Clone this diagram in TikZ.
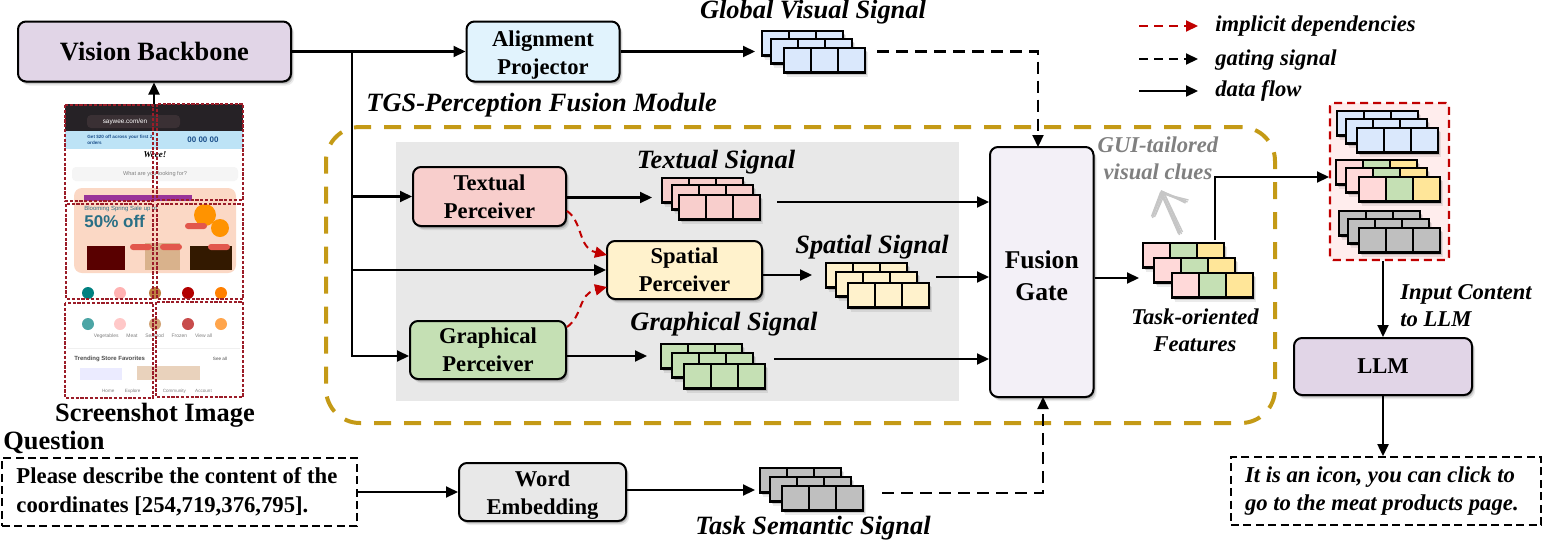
\documentclass[tikz,border=0pt]{standalone}
\usepackage{fontspec}
\setmainfont{Liberation Serif}
\newfontfamily\phonefont{Liberation Sans}
\usetikzlibrary{arrows.meta,shadows}

\definecolor{purpbox}{HTML}{E1D5E7}
\definecolor{bluebox}{HTML}{E1F3FD}
\definecolor{pinkbox}{HTML}{F8CECC}
\definecolor{yellbox}{HTML}{FFF2CC}
\definecolor{greenbox}{HTML}{C5E0B4}
\definecolor{wordbox}{HTML}{E8E8E8}
\definecolor{gatebox}{HTML}{F3F0F7}
\definecolor{bluecell}{HTML}{DAE8FC}
\definecolor{pinkcell}{HTML}{FFD9D9}
\definecolor{yellcell}{HTML}{FFE699}
\definecolor{graycell}{HTML}{BFBFBF}
\definecolor{goldline}{HTML}{C49A16}
\definecolor{redline}{HTML}{C00000}
\definecolor{phonered}{HTML}{9B1C28}
\definecolor{phonedark}{HTML}{262226}
\definecolor{phonepill}{HTML}{3A3034}
\definecolor{phonesky}{HTML}{BDE3F6}
\definecolor{phonepeach}{HTML}{FBD8C5}
\definecolor{phonenavy}{HTML}{1B4F8A}
\definecolor{phoneteal}{HTML}{2A6F85}
\definecolor{phoneprice}{HTML}{E2574C}

\newcommand{\boxfont}{\fontsize{11.3}{13.8}\selectfont\bfseries}
\newcommand{\sigfont}{\fontsize{13.2}{15}\selectfont\bfseries\itshape}
\newcommand{\notefont}{\fontsize{11.3}{13.5}\selectfont\bfseries\itshape}

\tikzset{
  softshadow/.style={
    general shadow={shadow xshift=.5pt,shadow yshift=-.7pt,fill=black,opacity=.25},
    general shadow={shadow xshift=1pt,shadow yshift=-1.3pt,fill=black,opacity=.15},
    general shadow={shadow xshift=1.6pt,shadow yshift=-2pt,fill=black,opacity=.08}},
  block/.style={draw=black,line width=1pt,rounded corners=4pt,align=center,
    inner sep=0pt,font=\boxfont,softshadow},
  cell/.style={draw=black,line width=1.3pt,softshadow},
  flow/.style={draw=black,line width=1.05pt,-{Triangle[length=6pt,width=5.5pt]}},
  gating/.style={flow,dash pattern=on 6pt off 3.5pt},
  implicit/.style={draw=redline,line width=1pt,dash pattern=on 3.5pt off 2.5pt,
    -{Triangle[length=6pt,width=5.5pt,fill=redline]}},
  textbox/.style={draw=black,line width=.9pt,dash pattern=on 4pt off 2.2pt,
    inner sep=0pt},
  siglabel/.style={font=\sigfont,inner sep=0pt},
  notelabel/.style={font=\notefont,inner sep=0pt,align=center},
  phonebox/.style={draw=phonered,line width=.8pt,dash pattern=on 1.6pt off .8pt},
  phonetext/.style={inner sep=0pt,text=#1},
}

% one row of a signal, three cells
\newcommand{\sigrow}[5]{%
  \foreach \cx/\cc in {0/#3,1/#4,2/#5}
    \draw[cell,fill=\cc] (#1+\cx*27,#2) rectangle +(27,24.5);
}
% three rows, back to front
\newcommand{\sigstack}[9]{%
  \sigrow{#1}{#2}{#7}{#8}{#9}
  \sigrow{#3}{#4}{#7}{#8}{#9}
  \sigrow{#5}{#6}{#7}{#8}{#9}
}

\begin{document}
\begin{tikzpicture}[x=0.5pt,y=-0.5pt]
  \useasboundingbox (0,0) rectangle (1543,542);

  % screenshot
  \begin{scope}
    \clip (65,104) rectangle (243,398);
    \fill[white] (65,104) rectangle (243,398);
    \fill[phonedark] (65,104) rectangle (243,131);
    \fill[phonepill,rounded corners=2pt] (87,115) rectangle (180,128);
    \fill[phonesky] (65,131) rectangle (243,149);
    \fill[black!4,rounded corners=2pt] (72,167) rectangle (238,181);
    \fill[phonepeach,rounded corners=4pt] (74,188) rectangle (236,273);
    \fill[violet!80] (84,195) rectangle (192,201);
    \fill[orange!85!yellow] (205,215) circle (11);
    \fill[orange!85!yellow] (220,228) circle (9);
    \fill[black!65!red] (87,246) rectangle (125,270);
    \fill[brown!60] (145,243) rectangle (180,270);
    \fill[black!80!orange] (190,246) rectangle (232,270);
    \foreach \px/\py in {185/226,130/247,160/247,208/247}
      \fill[phoneprice,rounded corners=1.5pt] (\px,\py-3) rectangle +(22,6);
    \foreach \ix/\ic in {88/teal,120/red!30,155/brown,188/red!70!black,221/orange} {
      \fill[\ic] (\ix,293) circle (6);
      \fill[\ic,opacity=.7] (\ix,324) circle (6);
    }
    \fill[black!6] (68,348) rectangle (240,349);
    \fill[blue!8] (80,368) rectangle (122,380);
    \fill[brown!35] (137,366) rectangle (200,380);
    \fill[white] (65,380) rectangle (243,398);
    \node[phonetext=white,font=\phonefont\fontsize{3.2}{4}\selectfont] (phoneurl) at (125,122) {saywee.com/en};
    \node[phonetext=phonenavy,font=\phonefont\bfseries\fontsize{2.3}{3}\selectfont,anchor=west,align=left] (phonedeal) at (87,140) {Get \$20 off across your first 2\\orders};
    \node[phonetext=phonenavy,font=\phonefont\bfseries\fontsize{4}{5}\selectfont] (phoneclock) at (203,140) {00 00 00};
    \node[phonetext=black,font=\itshape\bfseries\fontsize{4.5}{5}\selectfont] (phonelogo) at (155,155) {Weee!};
    \node[phonetext=gray,font=\phonefont\fontsize{2.8}{3}\selectfont] (phoneask) at (155,174) {What are you looking for?};
    \node[phonetext=phoneteal,font=\phonefont\fontsize{3}{4}\selectfont,anchor=west] (phonesale) at (84,209) {Blooming Spring Sale up to};
    \node[phonetext=phoneteal,font=\phonefont\bfseries\fontsize{8.5}{10}\selectfont,anchor=west] (phoneoff) at (84,221) {50\% off};
    \node[phonetext=gray,font=\phonefont\fontsize{2.5}{3}\selectfont] (phonecats) at (153,336) {Vegetables\quad\ \ Meat\quad\ \ Seafood\quad\ \ Frozen\quad\ \ View all};
    \node[phonetext=black!70,font=\phonefont\bfseries\fontsize{3}{4}\selectfont,anchor=west] (phonetrend) at (74,359) {Trending Store Favorites};
    \node[phonetext=black!70,font=\phonefont\fontsize{2.3}{3}\selectfont] (phonesee) at (220,359) {See all};
    \node[phonetext=gray,font=\phonefont\fontsize{2.3}{3}\selectfont] (phonenav) at (157,391) {Home\qquad\ Explore\qquad\ \qquad\ \ Community\qquad Account};
  \end{scope}
  \foreach \xa/\ya/\xb/\yb in {65/105/153/201,157/104/243/200,66/204/153/299,157/204/243/299,65/303/153/398,156/302/243/397}
    \draw[phonebox] (\xa,\ya) rectangle (\xb,\yb);
  \coordinate (shot) at (154,104);

  % perceiver panel and module outline
  \fill[black!9] (396,142) rectangle (959,401);
  \node[draw=goldline,line width=2pt,dash pattern=on 8.5pt off 6.5pt,rounded corners=17pt,
    minimum width=474.5pt,minimum height=148pt,inner sep=0pt] (module) at (800.5,275) {};

  % blocks
  \node[block,fill=purpbox,minimum width=136.5pt,minimum height=30pt,font=\fontsize{13.2}{15}\selectfont\bfseries] (vision) at (154.5,51.5) {Vision Backbone};
  \node[block,fill=bluebox,minimum width=76.5pt,minimum height=30pt] (align) at (543,51.5) {\rule{0pt}{11.2pt}Alignment\\Projector};
  \node[block,fill=pinkbox,minimum width=76.5pt,minimum height=29.5pt] (textual) at (489.5,196.5) {Textual\\Perceiver};
  \node[block,fill=yellbox,minimum width=77.5pt,minimum height=29pt] (spatial) at (684.5,270) {Spatial\\Perceiver};
  \node[block,fill=greenbox,minimum width=78pt,minimum height=29pt] (graphical) at (488,350) {Graphical\\Perceiver};
  \node[block,fill=gatebox,minimum width=51.75pt,minimum height=125pt,font=\fontsize{12.8}{16}\selectfont\bfseries] (fusion) at (1041.75,272) {\rule{0pt}{12.5pt}Fusion\\Gate};
  \node[block,fill=wordbox,minimum width=83.5pt,minimum height=29pt] (word) at (542.5,492) {\rule{0pt}{11.2pt}Word\\Embedding};
  \node[block,fill=purpbox,minimum width=89pt,minimum height=28.5pt] (llm) at (1383,366.5) {LLM};

  % text boxes
  \node[textbox,minimum width=177.5pt,minimum height=34pt,align=flush left,text width=163pt,
    font=\fontsize{11.35}{14.5}\selectfont\bfseries] (question) at (179.5,492) {Please describe the content of the\\coordinates [254,719,376,795].};
  \node[textbox,minimum width=155pt,minimum height=34pt,align=flush left,text width=141pt,
    font=\fontsize{11.35}{14.2}\selectfont\bfseries\itshape] (answer) at (1386,491) {It is an icon, you can click to\\go to the meat products page.};

  % signals
  \sigstack{762}{31}{771}{39}{784}{48}{bluecell}{bluecell}{bluecell}
  \sigstack{662}{178}{672}{185}{679}{195}{pinkbox}{pinkbox}{pinkbox}
  \sigstack{826}{263}{836}{272}{848}{283}{yellbox}{yellbox}{yellbox}
  \sigstack{661}{344}{672}{353}{684}{364}{greenbox}{greenbox}{greenbox}
  \sigstack{760}{468}{770}{477}{782}{486}{graycell}{graycell}{graycell}
  \sigstack{1143}{243}{1154}{258}{1172}{273}{pinkcell}{greenbox}{yellcell}

  % input to the llm
  \node[draw=redline,fill=red!7,line width=1.1pt,dash pattern=on 4pt off 2.5pt,rounded corners=1.5pt,
    minimum width=59.5pt,minimum height=78.5pt,inner sep=0pt] (content) at (1389.5,181.5) {};
  \sigstack{1337}{111}{1346}{119}{1357}{128}{bluecell}{bluecell}{bluecell}
  \sigstack{1336}{160}{1346}{168}{1359}{177}{pinkcell}{greenbox}{yellcell}
  \sigstack{1339}{211}{1348}{219}{1359}{228}{graycell}{graycell}{graycell}

  % ports beside the signals
  \coordinate (globin) at (755,51.5);
  \coordinate (globout) at (877,51.5);
  \coordinate (textin) at (652,197.5);
  \coordinate (textout) at (777,202);
  \coordinate (spatin) at (812,275);
  \coordinate (spatout) at (936,277);
  \coordinate (graphin) at (647,356);
  \coordinate (graphout) at (774,359);
  \coordinate (taskin) at (755,490);
  \coordinate (taskout) at (882,493);
  \coordinate (featin) at (1139,278);
  \coordinate (featout) at (1215,240);
  \coordinate (contentin) at (1329,177);
  \coordinate (bus) at (352,51.5);
  \coordinate (gateup) at (1038,147);
  \coordinate (gatedown) at (1043,397);
  \coordinate (texttail) at (567,211);
  \coordinate (spathead) at (607,255);
  \coordinate (graphtail) at (567,327);
  \coordinate (spatfoot) at (607,287);

  % connectors
  \draw[flow] (shot) -- (shot |- vision.south);
  \draw[flow] (vision.east) -- (align.west);
  \draw[flow] (bus) |- (textual.west);
  \draw[flow] (bus) |- (spatial.west);
  \draw[flow] (bus) |- (graphical.west |- graphin);
  \draw[flow] (align.east) -- (globin);
  \draw[gating] (globout) -| (gateup);
  \draw[flow] (textual.east |- textin) -- (textin);
  \draw[flow] (textout) -- (textout -| fusion.west);
  \draw[flow] (spatial.east |- spatin) -- (spatin);
  \draw[flow] (spatout) -- (spatout -| fusion.west);
  \draw[flow] (graphical.east |- graphin) -- (graphin);
  \draw[flow] (graphout) -- (graphout -| fusion.west);
  \draw[flow] (fusion.east |- featin) -- (featin);
  \draw[flow] (featout) |- (contentin);
  \draw[flow] (question.east) -- (word.west);
  \draw[flow] (word.east |- taskin) -- (taskin);
  \draw[gating] (taskout) -| (gatedown);
  \draw[flow] (content.south -| llm.north) -- (llm.north);
  \draw[flow] (llm.south) -- (answer.north -| llm.south);
  \draw[implicit] (texttail) .. controls (583,222) and (578,248) .. (spathead);
  \draw[implicit] (graphtail) .. controls (583,316) and (578,294) .. (spatfoot);

  % sketched arrow towards the clues
  \coordinate (cluetail) at (1180,233);
  \coordinate (cluetip) at (1162,193);
  \foreach \sx/\sy in {0/0,1.5/1,-1.5/.5,2.5/-1,-.5/2} {
    \draw[gray!45,line width=.7pt] ([shift={(\sx,\sy)}]cluetail) -- ([shift={(\sx,-\sy)}]cluetip);
    \draw[gray!45,line width=.7pt] ([shift={(\sx,\sy)}]1153,216) -- ([shift={(\sx,-\sy)}]cluetip) -- ([shift={(\sx,\sy)}]1186,201);
  }

  % labels
  \node[siglabel] (globlabel) at (813,12) {Global Visual Signal};
  \node[siglabel,anchor=west] (modlabel) at (366,105) {TGS-Perception Fusion Module};
  \node[siglabel] (textlabel) at (716,162) {Textual Signal};
  \node[siglabel] (spatlabel) at (872,247) {Spatial Signal};
  \node[siglabel] (graphlabel) at (724,324) {Graphical Signal};
  \node[siglabel] (tasklabel) at (813,528) {Task Semantic Signal};
  \node[notelabel] (featlabel) at (1195,330) {Task-oriented\\Features};
  \node[notelabel,text=gray,font=\notefont] (cluelabel) at (1158,158) {GUI-tailored\\visual clues};
  \node[notelabel,align=left,anchor=west] (inputlabel) at (1400,306) {Input Content\\to LLM};
  \node[inner sep=0pt,font=\fontsize{13.2}{15}\selectfont\bfseries] (shotlabel) at (155,415) {Screenshot Image};
  \node[inner sep=0pt,font=\fontsize{13.2}{15}\selectfont\bfseries,anchor=west] (quelabel) at (3,442) {Question};

  % legend
  \coordinate (leg1a) at (1139,26);
  \coordinate (leg1b) at (1198,26);
  \coordinate (leg2a) at (1139,59);
  \coordinate (leg2b) at (1198,59);
  \coordinate (leg3a) at (1139,91);
  \coordinate (leg3b) at (1198,91);
  \draw[implicit,dash pattern=on 4.5pt off 3pt] (leg1a) -- (leg1b);
  \draw[gating,dash pattern=on 4.5pt off 3pt] (leg2a) -- (leg2b);
  \draw[flow] (leg3a) -- (leg3b);
  \node[notelabel,anchor=west] (leg1) at (1215,26) {implicit dependencies};
  \node[notelabel,anchor=west] (leg2) at (1215,60) {gating signal};
  \node[notelabel,anchor=west] (leg3) at (1215,91) {data flow};
\end{tikzpicture}
\end{document}
